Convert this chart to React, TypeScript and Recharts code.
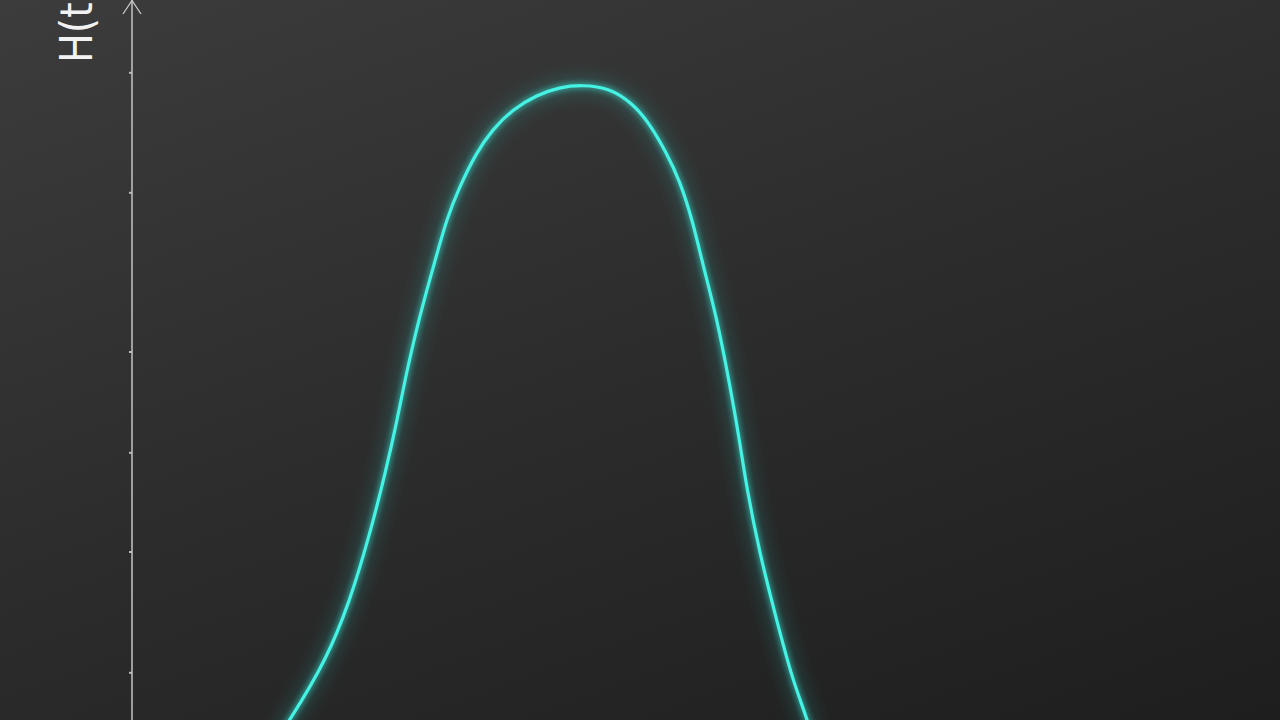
import React from 'react';
import { LineChart, Line, XAxis, YAxis } from 'recharts';

// t positions along the horizontal axis (0..10)
const tValues = [
  0.8, 1.09, 1.395, 1.691, 1.892, 2.066, 2.214, 2.31, 2.371, 2.502, 2.65, 2.738,
  2.851, 2.999, 3.139, 3.313, 3.522, 3.723, 3.923, 4.159, 4.359, 4.507, 4.656,
  4.769, 4.882, 4.969, 5.092, 5.205, 5.292, 5.353, 5.466, 5.615, 5.754, 5.876,
  6.016, 6.207,
];

// H(t)
const hValues = [
  0, 0.038, 0.104, 0.175, 0.246, 0.329, 0.413, 0.475, 0.521, 0.604, 0.679, 0.725,
  0.766, 0.809, 0.838, 0.863, 0.881, 0.891, 0.894, 0.89, 0.871, 0.846, 0.809,
  0.775, 0.725, 0.671, 0.604, 0.521, 0.45, 0.391, 0.309, 0.225, 0.15, 0.104,
  0.038, 0,
];

// faint marks on the vertical axis
const yTicks = [0.159, 0.31, 0.434, 0.56, 0.759, 0.909];

const axisLabel = 'H(t)';

const data = tValues.map((t, i) => ({ t, h: hValues[i] }));

const glowCss = `
  .glow-line .recharts-line-curve {
    filter: drop-shadow(0 0 3px rgba(60, 240, 225, 0.95)) drop-shadow(0 0 10px rgba(40, 220, 205, 0.6));
  }
`;

const AxisDecor = (props: any) => {
  const vb = props.viewBox || {};
  const ax = (vb.x || 0) + (vb.width || 0);
  return (
    <g>
      <path
        d={`M${ax - 9},14 L${ax},0.5 L${ax + 9},14`}
        fill="none"
        stroke="#c9c9c9"
        strokeWidth={1.3}
      />
      <text
        x={ax - 40}
        y={63}
        transform={`rotate(-90, ${ax - 40}, 63)`}
        textAnchor="start"
        fill="#f2f2f2"
        fontSize={44}
        fontFamily="'Liberation Sans Narrow', 'DejaVu Sans Condensed', sans-serif"
      >
        {axisLabel}
      </text>
    </g>
  );
};

const App: React.FC = () => {
  return (
    <div
      style={{
        position: 'fixed',
        top: 0,
        left: 0,
        width: 1280,
        height: 720,
        overflow: 'hidden',
        background: 'linear-gradient(160deg, #3c3c3c 0%, #2c2c2c 50%, #1e1e1e 100%)',
      }}
    >
      <style>{glowCss}</style>
      <LineChart
        width={1280}
        height={800}
        data={data}
        margin={{ top: 0, right: 0, left: 72, bottom: 0 }}
      >
        <XAxis dataKey="t" type="number" domain={[0, 10]} hide height={0} />
        <YAxis
          type="number"
          domain={[0, 1]}
          width={60}
          ticks={yTicks}
          tick={() => <g />}
          tickSize={3}
          tickLine={{ stroke: '#bdbdbd', strokeWidth: 2 }}
          axisLine={{ stroke: '#c4c4c4', strokeWidth: 1.5 }}
          label={{ content: AxisDecor }}
        />
        <Line
          className="glow-line"
          type="basis"
          dataKey="h"
          stroke="#45f2e3"
          strokeWidth={3.2}
          dot={false}
          isAnimationActive={false}
        />
      </LineChart>
    </div>
  );
};

export default App;
